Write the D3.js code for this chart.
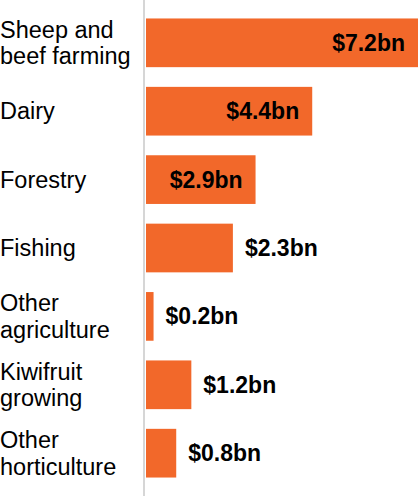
<!DOCTYPE html>
<html>
<head>
<meta charset="utf-8">
<script src="https://cdn.jsdelivr.net/npm/d3@7"></script>
<style>
  html, body { margin: 0; padding: 0; background: #fff; }
  svg { display: block; font-family: "Liberation Sans", Arial, Helvetica, sans-serif; }
</style>
</head>
<body>
<div id="chart"></div>
<script>
// Primary-sector value by industry ($bn)
const categories = [
  ["Sheep and", "beef farming"],
  ["Dairy"],
  ["Forestry"],
  ["Fishing"],
  ["Other", "agriculture"],
  ["Kiwifruit", "growing"],
  ["Other", "horticulture"],
];
const values = [7.2, 4.4, 2.9, 2.3, 0.2, 1.2, 0.8];
const valueLabels = ["$7.2bn", "$4.4bn", "$2.9bn", "$2.3bn", "$0.2bn", "$1.2bn", "$0.8bn"];

(function () {
  const W = 418, H = 496;
  const ORANGE = "#F2682A";
  const data = values.map((v, i) => ({ key: categories[i].join(" "), lines: categories[i], v, label: valueLabels[i] }));

  const svg = d3.select("#chart").append("svg").attr("width", W).attr("height", H);

  const x = d3.scaleLinear().domain([0, d3.max(values)]).range([146, W]);
  const y = d3.scaleBand().domain(data.map(d => d.key)).range([0, H]).paddingInner(0.288).paddingOuter(0.27);

  // baseline rule
  svg.append("line")
    .attr("x1", 144).attr("x2", 144).attr("y1", 0).attr("y2", H)
    .attr("stroke", "#d6d6d6").attr("stroke-width", 2);

  svg.selectAll("rect.bar").data(data).join("rect").attr("class", "bar")
    .attr("x", x(0)).attr("y", d => y(d.key))
    .attr("width", d => x(d.v) - x(0)).attr("height", y.bandwidth())
    .attr("fill", ORANGE);

  // value labels: inside for the long bars, outside for the short ones
  const inside = d => x(d.v) - x(0) > 100;
  svg.selectAll("text.val").data(data).join("text").attr("class", "val")
    .attr("x", d => inside(d) ? x(d.v) - 13 : x(d.v) + 12)
    .attr("y", d => y(d.key) + y.bandwidth() / 2)
    .attr("dy", "0.35em")
    .attr("text-anchor", d => inside(d) ? "end" : "start")
    .attr("font-size", 23).attr("font-weight", "bold").attr("fill", "#000")
    .text(d => d.label);

  // category labels (one or two lines, centred on the bar)
  const LH = 26.7;
  const cat = svg.selectAll("text.cat").data(data).join("text").attr("class", "cat")
    .attr("x", 0).attr("font-size", 23.5).attr("fill", "#000");
  cat.each(function (d) {
    const cy = y(d.key) + y.bandwidth() / 2;
    const n = d.lines.length;
    d3.select(this).selectAll("tspan").data(d.lines).join("tspan")
      .attr("x", 0)
      .attr("y", (l, i) => cy + 8.2 + (i - (n - 1) / 2) * LH)
      .text(l => l);
  });
})();
</script>
</body>
</html>
